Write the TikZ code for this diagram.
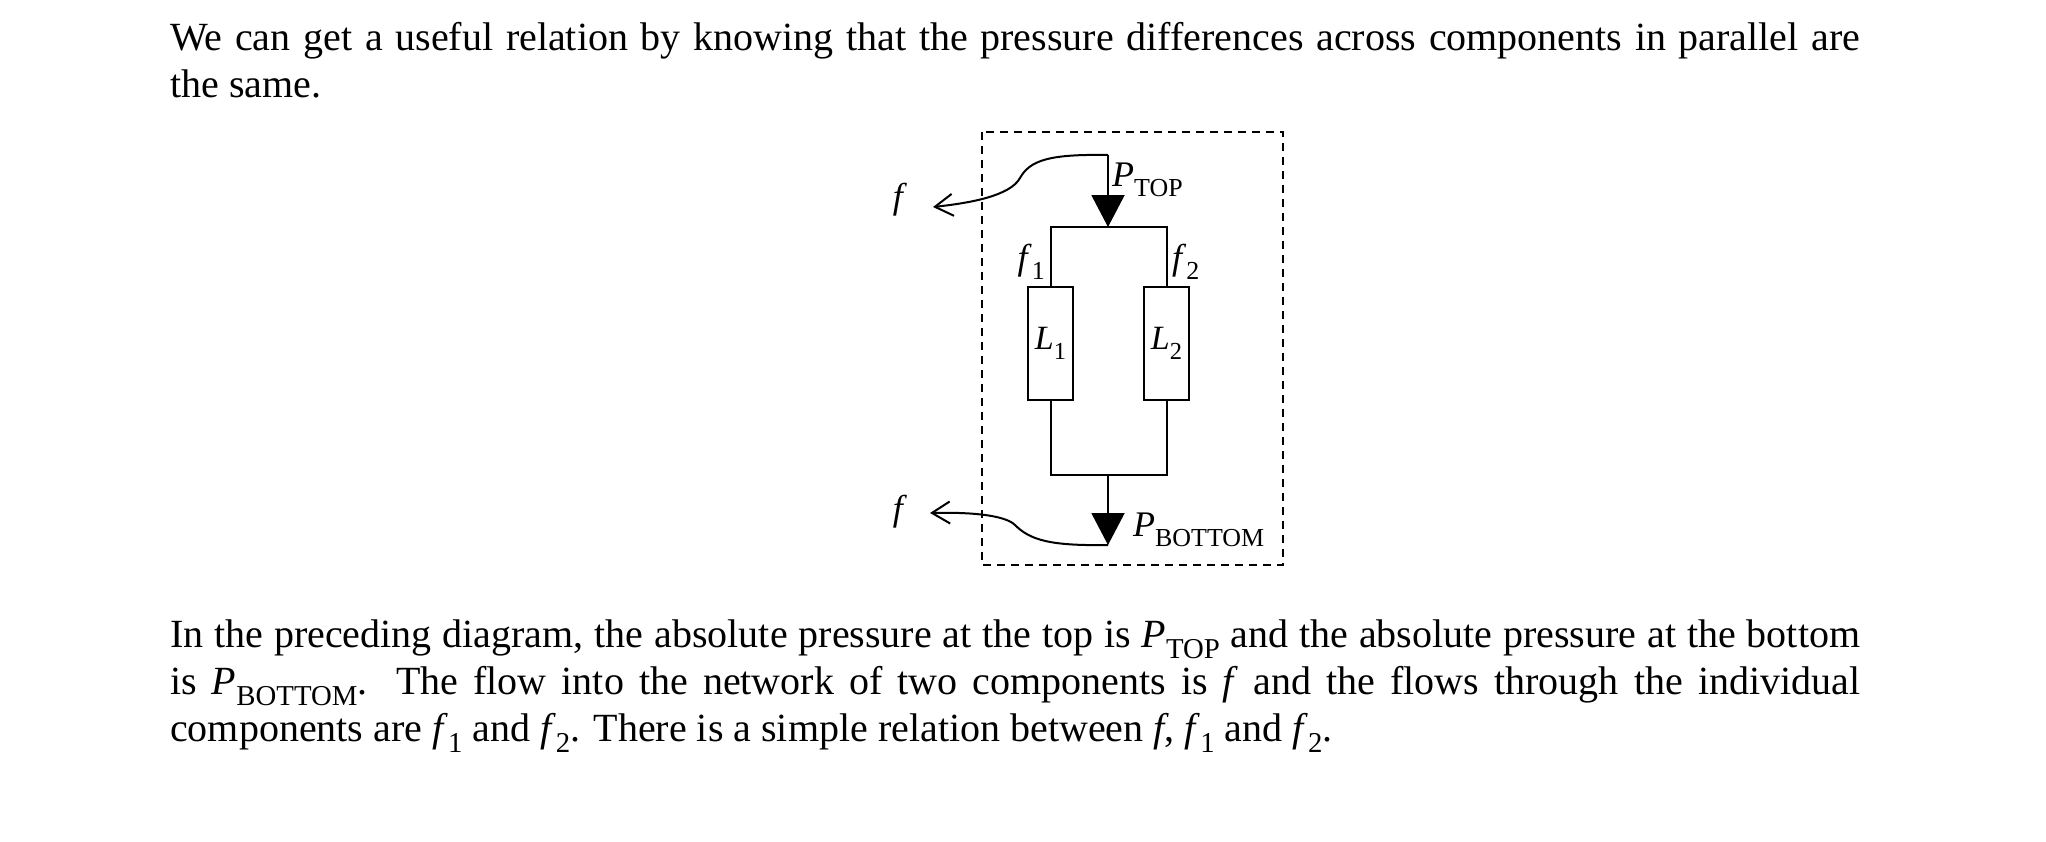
\documentclass[tikz,border=0pt]{standalone}
\usepackage{fontspec}
\setmainfont{Liberation Serif}
\usetikzlibrary{arrows.meta}
\newcommand{\sbs}[2]{\textit{#1}\raisebox{-0.28em}{\fontsize{0.72em}{1em}\selectfont #2}}
\begin{document}
\begin{tikzpicture}[x=1pt,y=-1pt,
  wire/.style={line width=2pt},
  comp/.style={draw,line width=2pt,minimum width=45pt,minimum height=113pt,inner sep=0pt,font=\fontsize{34}{38}\selectfont},
  para/.style={anchor=base west,inner sep=0pt,text width=1690pt,align=justify,font=\fontsize{40}{47}\selectfont},
  lab/.style={inner sep=0pt,font=\fontsize{36}{40}\selectfont},
  bigtip/.style={-{Triangle[width=33pt,length=32pt]}},
  opentip/.style={-{Straight Barb[width=22pt,length=18pt,line width=2pt]}}]
\useasboundingbox (0,0) rectangle (2046,841);
\node[para] (t1) at (170,50) {We can get a useful relation by knowing that the pressure differences across components in parallel are\linebreak[4] the same.};
\node[para] (t2) at (170,647) {In the preceding diagram, the absolute pressure at the top is \sbs{P}{TOP} and the absolute pressure at the bottom\linebreak[4] is \sbs{P}{BOTTOM}. The flow into the network of two components is \textit{f} and the flows through the individual\linebreak[4] components are \sbs{f}{1} and \sbs{f}{2}. There is a simple relation between \textit{f}, \sbs{f}{1} and \sbs{f}{2}.};
% box
\draw[dashed,line width=2pt,dash pattern=on 8pt off 6pt] (982,132) rectangle (1283,565);
% coordinates
\coordinate (top) at (1108,155);
\coordinate (jt) at (1108,227);
\coordinate (jb) at (1108,475);
\coordinate (bot) at (1108,545);
\node[comp] (L1) at (1050.5,343.5) {\sbs{L}{1}};
\node[comp] (L2) at (1166.5,343.5) {\sbs{L}{2}};
\draw[wire,bigtip] (top) -- (jt);
\draw[wire] (L1.north) |- (jt) -| (L2.north);
\draw[wire] (L1.south) |- (jb) -| (L2.south);
\draw[wire,bigtip] (jb) -- (bot);
\node[lab] (fa) at (900,200) {\textit{f}};
\node[lab] (fb) at (900,512) {\textit{f}};
\coordinate (ea) at (933,207);
\coordinate (eb) at (930,513);
\draw[wire,opentip] (top) .. controls (1050,154) and (1030,160) .. (1020,178) .. controls (1010,196) and (970,203) .. (ea);
\draw[wire,opentip] (bot) .. controls (1050,546) and (1030,540) .. (1015,525) .. controls (1005,515) and (970,512) .. (eb);
\node[lab,anchor=west] (pt) at (1112,180) {\sbs{P}{TOP}};
\node[lab,anchor=west] (pb) at (1133,530) {\sbs{P}{BOTTOM}};
\node[lab,anchor=east] (f1) at (1045,262) {\sbs{f}{1}};
\node[lab,anchor=west] (f2) at (1172,262) {\sbs{f}{2}};
\end{tikzpicture}
\end{document}
